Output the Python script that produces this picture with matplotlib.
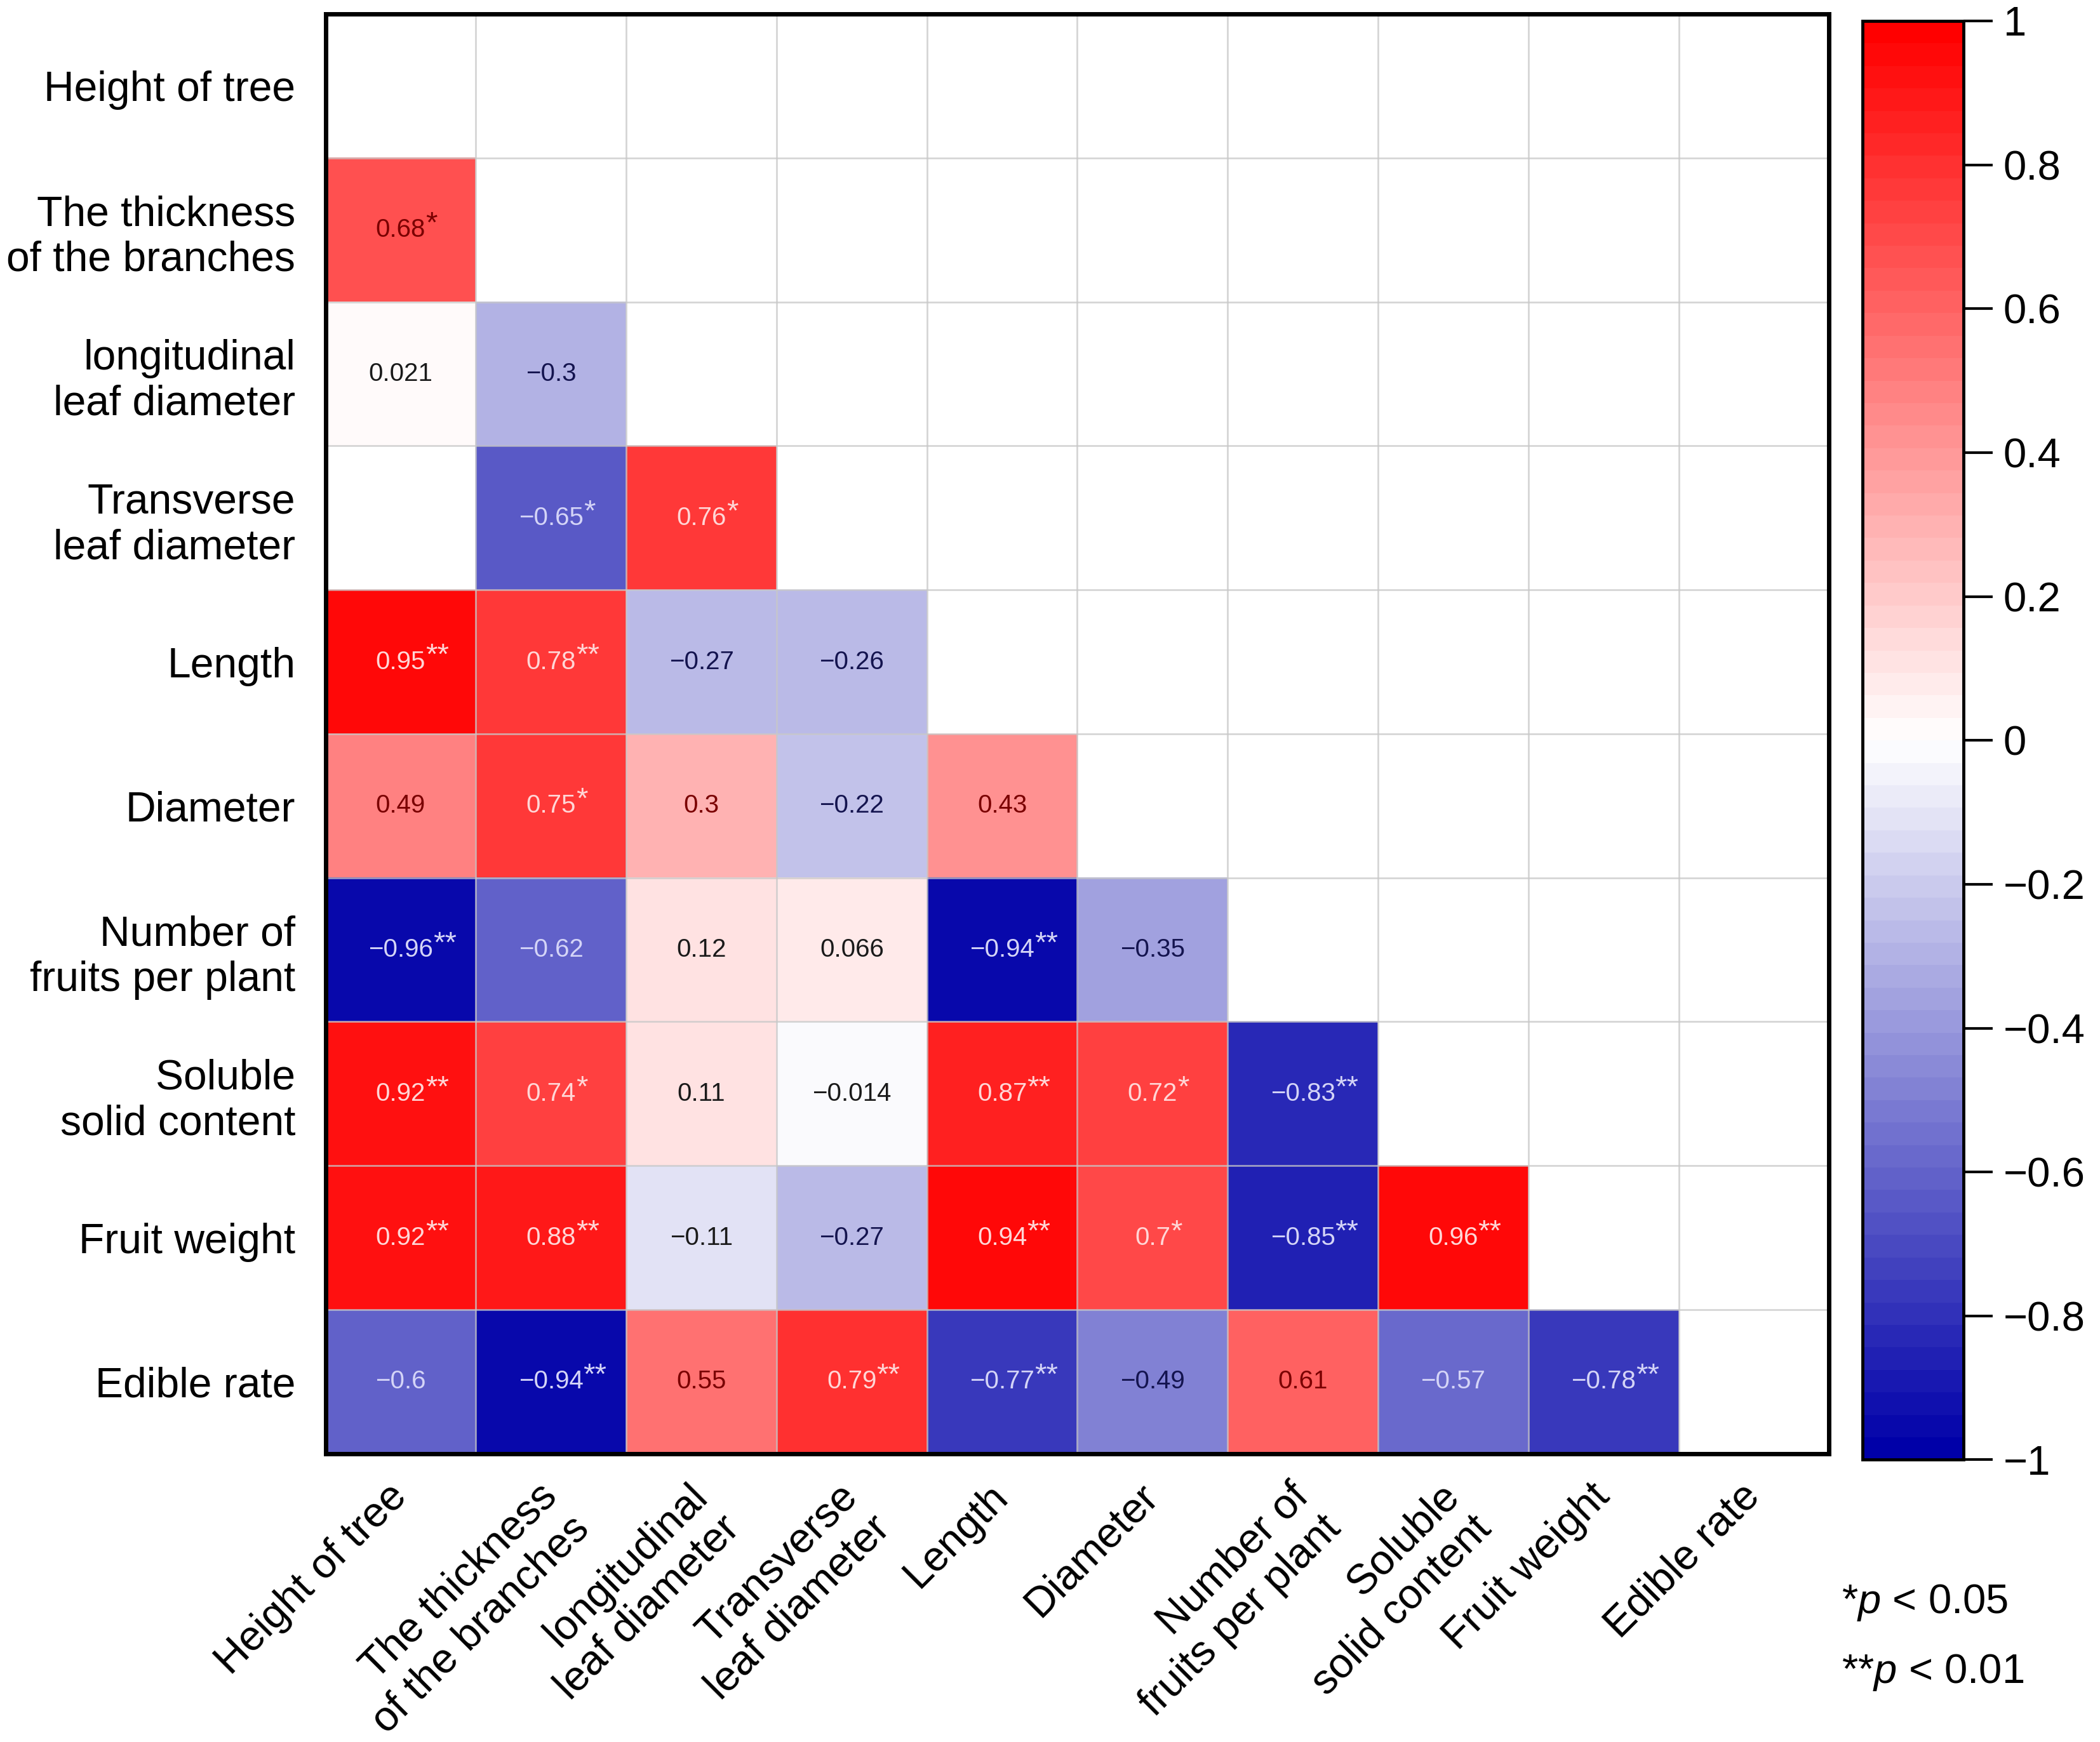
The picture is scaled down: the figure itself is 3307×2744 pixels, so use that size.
import numpy as np
import matplotlib
matplotlib.use("Agg")
import matplotlib.pyplot as plt
from matplotlib.colors import LinearSegmentedColormap
from matplotlib.ticker import FuncFormatter
from matplotlib.transforms import ScaledTranslation

plt.rcParams['font.family'] = ['Liberation Sans', 'DejaVu Sans']
plt.rcParams['mathtext.fontset'] = 'custom'
plt.rcParams['mathtext.rm'] = 'Liberation Sans'
plt.rcParams['mathtext.it'] = 'Liberation Sans:italic'

# data
y_labels = ["Height of tree", "The thickness\nof the branches", "longitudinal\nleaf diameter",
            "Transverse\nleaf diameter", "Length", "Diameter", "Number of\nfruits per plant",
            "Soluble\nsolid content", "Fruit weight", "Edible rate"]
x_labels = ["Height of tree", "The thickness\nof the branches", "longitudinal\nleaf diameter",
            "Transverse\nleaf diameter", "Length", "Diameter", "Number of\nfruits per plant",
            "Soluble\nsolid content", "Fruit weight", "Edible rate"]

# lower triangle, row by row (nan = empty cell)
r_rows = [[],
          [0.68],
          [0.021, -0.3],
          [np.nan, -0.65, 0.76],
          [0.95, 0.78, -0.27, -0.26],
          [0.49, 0.75, 0.3, -0.22, 0.43],
          [-0.96, -0.62, 0.12, 0.066, -0.94, -0.35],
          [0.92, 0.74, 0.11, -0.014, 0.87, 0.72, -0.83],
          [0.92, 0.88, -0.11, -0.27, 0.94, 0.7, -0.85, 0.96],
          [-0.6, -0.94, 0.55, 0.79, -0.77, -0.49, 0.61, -0.57, -0.78]]
sig_rows = [[],
            ['*'],
            ['', ''],
            ['', '*', '*'],
            ['**', '**', '', ''],
            ['', '*', '', '', ''],
            ['**', '', '', '', '**', ''],
            ['**', '*', '', '', '**', '*', '**'],
            ['**', '**', '', '', '**', '*', '**', '**'],
            ['', '**', '', '**', '**', '', '', '', '**']]

n = len(y_labels)
mat = np.full((n, n), np.nan)
for i, row in enumerate(r_rows):
    for j, v in enumerate(row):
        mat[i, j] = v

cmap = LinearSegmentedColormap.from_list("bwr2", [(0.0, 0.0, 0.66), (1, 1, 1), (1.0, 0.0, 0.0)], N=64)

fig = plt.figure(figsize=(33.07, 27.44), dpi=100)
ax = fig.add_axes([0.155, 0.1655, 0.716, 0.8265])
im = ax.imshow(np.ma.masked_invalid(mat), cmap=cmap, vmin=-1, vmax=1, aspect='auto',
               interpolation='nearest')
ax.set_xlim(-0.5, n - 0.5)
ax.set_ylim(n - 0.5, -0.5)

# grid
ax.set_xticks(np.arange(n + 1) - 0.5, minor=True)
ax.set_yticks(np.arange(n + 1) - 0.5, minor=True)
ax.grid(which='minor', color='#c8c8c8', linewidth=2, alpha=0.75)
ax.tick_params(which='both', length=0)

ax.set_xticks(np.arange(n))
ax.set_xticklabels(x_labels, rotation=45, ha='right', va='top', rotation_mode='anchor',
                   fontsize=47.5, multialignment='right')
ax.set_yticks(np.arange(n))
ax.set_yticklabels(y_labels, fontsize=47.5, multialignment='right')
ax.tick_params(axis='y', pad=34)
ax.tick_params(axis='x', pad=26)
shift = ScaledTranslation(-16 / 72, 0, fig.dpi_scale_trans)
for lab in ax.get_xticklabels():
    lab.set_transform(lab.get_transform() + shift)
for s in ax.spines.values():
    s.set_linewidth(5)

# cell annotations
for i in range(n):
    for j in range(i):
        v = mat[i, j]
        if np.isnan(v):
            continue
        if v > 0:
            col = '#ffd6d6' if v >= 0.7 else ('#7a0000' if v >= 0.2 else '#1a1a1a')
        else:
            col = '#d4d4f7' if v <= -0.57 else ('#14144f' if v <= -0.2 else '#1a1a1a')
        txt = f"{v:g}".replace('-', '\u2212')
        t = ax.text(j, i, txt, ha='center', va='center', fontsize=29, color=col,
                    family=['Liberation Sans Narrow', 'Liberation Sans'])
        if sig_rows[i][j]:
            ax.annotate(sig_rows[i][j], xy=(1.0, 1.3), xycoords=t, ha='left', va='top',
                        fontsize=34, color=col,
                        family=['Liberation Sans Narrow', 'Liberation Sans'])

# colorbar
cax = fig.add_axes([0.887, 0.162, 0.048, 0.826])
cb = fig.colorbar(im, cax=cax, ticks=np.linspace(-1, 1, 11))
cb.ax.yaxis.set_major_formatter(FuncFormatter(
    lambda v, p: f"{round(v, 1):g}".replace('-', '\u2212') if abs(v) > 1e-9 else "0"))
cb.ax.tick_params(length=33, width=3, labelsize=47, pad=12)
cb.outline.set_linewidth(3.5)

fig.text(0.877, 0.08, "*$p$ < 0.05", fontsize=47, va='center')
fig.text(0.877, 0.04, "**$p$ < 0.01", fontsize=47, va='center')

fig.savefig("out.png", dpi=100)
